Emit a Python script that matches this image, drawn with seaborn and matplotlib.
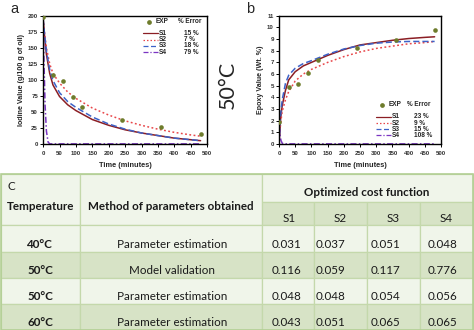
import matplotlib
matplotlib.use("Agg")
import matplotlib.pyplot as plt
from matplotlib.patches import Rectangle
from matplotlib.lines import Line2D
import seaborn as sns
import pandas as pd

# ---------------- data: panel a (iodine value) ----------------
exp_t = [0, 30, 60, 90, 120, 240, 360, 480]
iodine_exp = [198, 107, 98, 74, 57, 37, 27, 15]

curve_t = [0, 5, 10, 20, 30, 50, 75, 100, 150, 200, 250, 300, 350, 400, 450, 480]
iodine_s1 = [195, 165, 140, 110, 92, 74, 61, 52, 38, 29, 22, 17, 13, 9, 6.5, 5]
iodine_s2 = [195, 170, 150, 125, 110, 95, 81, 71, 56, 45, 36, 29, 23, 18, 14, 12]
iodine_s3 = [195, 168, 145, 116, 99, 80, 66, 57, 42, 31, 23, 17, 13, 9, 6.5, 5]
s4_t = [0, 3, 6, 10, 15, 20, 480]
iodine_s4 = [195, 120, 60, 20, 3, 0, 0]
iodine_err = ["15 %", "7 %", "18 %", "79 %"]

# ---------------- data: panel b (epoxy value) ----------------
epoxy_exp = [1.9, 4.87, 5.16, 6.07, 7.18, 8.26, 8.92, 9.8]
epoxy_s1 = [0, 2.2, 3.3, 4.6, 5.5, 6.2, 6.7, 7.0, 7.6, 8.1, 8.5, 8.7, 8.9, 9.05, 9.15, 9.2]
epoxy_s2 = [0, 1.8, 2.8, 3.8, 4.5, 5.4, 6.0, 6.4, 7.0, 7.5, 7.9, 8.2, 8.4, 8.6, 8.7, 8.8]
epoxy_s3 = [0, 2.5, 3.8, 5.2, 5.9, 6.5, 6.9, 7.15, 7.7, 8.15, 8.45, 8.65, 8.75, 8.8, 8.8, 8.8]
epoxy_s4 = [1.5, 0.8, 0.3, 0.05, 0, 0, 0]
epoxy_err = ["23 %", "9 %", "15 %", "108 %"]

series = ["S1", "S2", "S3", "S4"]
colors = {"S1": "#8b1e24", "S2": "#e8474a", "S3": "#3d62c8", "S4": "#7a35c2"}
styles = {"S1": "-", "S2": (0, (1.2, 1.6)), "S3": (0, (4, 2)), "S4": (0, (4, 1.5, 1, 1.5))}
exp_color = "#6e7c2c"

# ---------------- data: table ----------------
temps = ["40°C", "50°C", "50°C", "60°C"]
methods = ["Parameter estimation", "Model validation", "Parameter estimation", "Parameter estimation"]
cost_s1 = ["0.031", "0.116", "0.048", "0.043"]
cost_s2 = ["0.037", "0.059", "0.048", "0.051"]
cost_s3 = ["0.051", "0.117", "0.054", "0.065"]
cost_s4 = ["0.048", "0.776", "0.056", "0.065"]

sns.set_theme(style="ticks")
plt.rcParams["font.family"] = ["Liberation Sans", "DejaVu Sans"]

fig = plt.figure(figsize=(4.74, 3.30), dpi=100)

# ---------------- table (background axes) ----------------
axt = fig.add_axes([0, 0, 1, 1], zorder=0)
axt.set_xlim(0, 474)
axt.set_ylim(330, 0)
axt.axis("off")

xe = [1, 80, 262, 314, 367, 420, 473]
ye = [174, 202, 225, 252, 278, 304, 330]
light = "#f0f5ea"
dark = "#d7e3c6"
edge = "#c4d8ab"
tfont = ["Lato", "DejaVu Sans"]

def cell(x0, x1, y0, y1, fc):
    axt.add_patch(Rectangle((x0, y0), x1 - x0, y1 - y0, facecolor=fc,
                            edgecolor=edge, lw=0.9))

cell(xe[0], xe[1], ye[0], ye[2], light)
cell(xe[1], xe[2], ye[0], ye[2], light)
cell(xe[2], xe[6], ye[0], ye[1], light)
for j in range(4):
    cell(xe[2 + j], xe[3 + j], ye[1], ye[2], dark)
row_cols = [light, dark, light, dark]
for i in range(4):
    for j in range(6):
        cell(xe[j], xe[j + 1], ye[2 + i], ye[3 + i], row_cols[i])
axt.add_patch(Rectangle((xe[0], ye[0]), xe[-1] - xe[0], ye[-1] - ye[0],
                        facecolor="none", edgecolor="#b3cf95", lw=1.2))

fs = 8.4
tc = "#1a1a1a"
axt.text(8, 186, "C", fontsize=fs, family=tfont, ha="left", va="center", color=tc)
axt.text(7, 207, "Temperature", fontsize=fs, family=tfont, weight="bold",
         ha="left", va="center", color=tc)
axt.text(171, 206, "Method of parameters obtained", fontsize=fs, family=tfont,
         weight="bold", ha="center", va="center", color=tc)
axt.text(367, 193, "Optimized cost function", fontsize=fs, family=tfont,
         weight="bold", ha="center", va="center", color=tc)
scx = [289, 340, 393, 446]
for j, s in enumerate(series):
    axt.text(scx[j], 218, s, fontsize=fs, family=tfont, ha="center", va="center", color=tc)
rowy = [245, 270, 296, 322]
vcx = [287, 331, 386, 443]
cols = [cost_s1, cost_s2, cost_s3, cost_s4]
for i in range(4):
    axt.text(40, rowy[i], temps[i], fontsize=fs, family=tfont, weight="bold",
             ha="center", va="center", color=tc)
    axt.text(172, rowy[i], methods[i], fontsize=fs, family=tfont,
             ha="center", va="center", color=tc)
    for j in range(4):
        axt.text(vcx[j], rowy[i], cols[j][i], fontsize=fs, family=tfont,
                 ha="center", va="center", color=tc)

# ---------------- plot panels ----------------
def style_axes(ax, xlab, ylab):
    for sp in ax.spines.values():
        sp.set_visible(True)
        sp.set_linewidth(1.0)
        sp.set_color("black")
    ax.tick_params(axis="both", labelsize=4.4, length=2.2, width=0.7, pad=1.5,
                   colors="black")
    ax.tick_params(axis="x", pad=3)
    for lab in ax.get_xticklabels() + ax.get_yticklabels():
        lab.set_fontweight("bold")
        lab.set_color("#333")
    ax.set_xlabel(xlab, fontsize=5.3, fontweight="bold", labelpad=4.5)
    ax.set_ylabel(ylab, fontsize=5.1, fontweight="bold", labelpad=2)

def draw_panel(ax, ys, s4y, expy):
    for s, y in zip(series[:3], ys):
        sns.lineplot(x=curve_t, y=y, ax=ax, color=colors[s], linestyle=styles[s],
                     lw=1.1, label=s, legend=False)
    sns.lineplot(x=s4_t, y=s4y, ax=ax, color=colors["S4"], linestyle=styles["S4"],
                 lw=1.1, label="S4", legend=False)
    sns.scatterplot(x=exp_t, y=expy, ax=ax, color=exp_color, s=11, linewidth=0,
                    zorder=5, label="EXP", legend=False)

def draw_legend(ax, x_line, y_exp, y_rows, x_err, errs, rowstep):
    fsz = 4.7
    ax.plot([x_line + 0.035], [y_exp], marker="o", ms=2.4, color=exp_color,
            transform=ax.transAxes, clip_on=False, ls="none")
    ax.text(x_line + 0.075, y_exp, "EXP", transform=ax.transAxes, fontsize=fsz,
            fontweight="bold", va="center", ha="left")
    ax.text(x_err, y_exp, "% Error", transform=ax.transAxes, fontsize=fsz,
            fontweight="bold", va="center", ha="left")
    for k, s in enumerate(series):
        yy = y_rows - k * rowstep
        ax.add_line(Line2D([x_line, x_line + 0.09], [yy, yy], color=colors[s],
                           linestyle=styles[s], lw=0.9, transform=ax.transAxes))
        ax.text(x_line + 0.095, yy, s, transform=ax.transAxes, fontsize=fsz,
                fontweight="bold", va="center", ha="left")
        ax.text(x_err + 0.04, yy, errs[k], transform=ax.transAxes, fontsize=fsz,
                fontweight="bold", va="center", ha="left")

axa = fig.add_axes([0.091, 0.564, 0.346, 0.388], zorder=2)
draw_panel(axa, [iodine_s1, iodine_s2, iodine_s3], iodine_s4, iodine_exp)
axa.set_xlim(0, 500)
axa.set_ylim(0, 200)
axa.set_xticks(range(0, 501, 50))
axa.set_yticks(range(0, 201, 25))
style_axes(axa, "Time (minutes)", "Iodine Value (g/100 g of oil)")
draw_legend(axa, 0.61, 0.955, 0.865, 0.82, iodine_err, 0.05)

axb = fig.add_axes([0.5886, 0.564, 0.342, 0.388], zorder=2)
draw_panel(axb, [epoxy_s1, epoxy_s2, epoxy_s3], epoxy_s4, epoxy_exp)
axb.set_xlim(0, 500)
axb.set_ylim(0, 11)
axb.set_xticks(range(0, 501, 50))
axb.set_yticks(range(0, 12, 1))
style_axes(axb, "Time (minutes)", "Epoxy Value (Wt. %)")
draw_legend(axb, 0.60, 0.305, 0.21, 0.79, epoxy_err, 0.048)

fig.text(10 / 474, 1 - 9 / 330, "a", fontsize=10.5, ha="left", va="center")
fig.text(246 / 474, 1 - 9 / 330, "b", fontsize=10.5, ha="left", va="center")
fig.text(228 / 474, 1 - 85 / 330, "50°C", fontsize=15.5, rotation=90,
         ha="center", va="center", family=["Lato", "DejaVu Sans"])

fig.savefig("out.png", dpi=100, facecolor="white")
